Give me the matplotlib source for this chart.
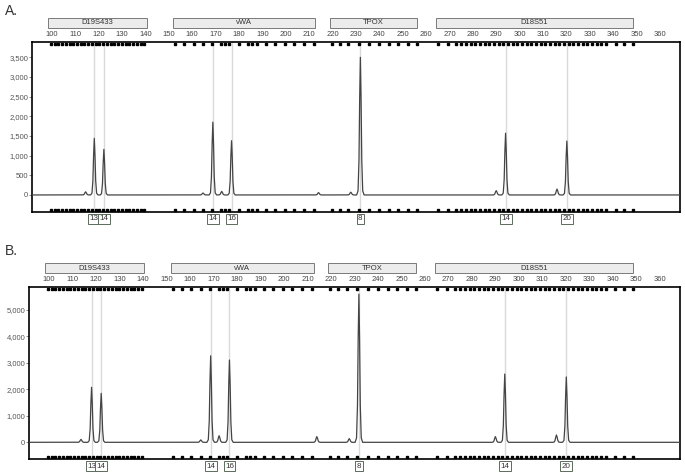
import matplotlib
matplotlib.use("Agg")
import matplotlib.pyplot as plt
import matplotlib.transforms as mtransforms
from matplotlib.patches import Rectangle

plt.rcParams['font.family'] = ['Liberation Sans', 'DejaVu Sans']

# size scale (bp) printed above each panel
size_ticks = [100, 110, 120, 130, 140, 150, 160, 170, 180, 190, 200, 210, 220,
              230, 240, 250, 260, 270, 280, 290, 300, 310, 320, 330, 340, 350, 360]

# locus header boxes
loci = ['D19S433', 'vWA', 'TPOX', 'D18S51']
locus_start = [98.2, 151.8, 218.8, 264.4]
locus_end = [140.5, 212.6, 256.1, 348.4]

# bin markers (squares on top and bottom frame)
d19_bins = [99.5, 101.1, 102.7, 104.3, 105.9, 107.5, 109.1, 110.7, 112.3, 113.9, 115.5,
            117.1, 118.7, 120.3, 121.9, 123.5, 125.1, 126.7, 128.3, 129.9, 131.5, 133.1,
            134.7, 136.3, 137.9, 139.5]
vwa_bins = [152.6, 156.6, 160.6, 164.6, 168.6, 172.3, 174.0, 175.8, 180.0, 184.0, 185.7,
            187.6, 191.5, 195.5, 199.5, 203.5, 207.8, 212.1]
tpox_bins = [219.6, 223.2, 226.8, 231.3, 235.7, 240.0, 244.1, 248.0, 252.3, 256.3]
d18_bins = [265.2, 269.5, 273, 275, 277, 279, 281, 283, 285, 287, 289, 291, 293, 295, 297,
            299, 301, 303, 305, 307, 309, 311, 313, 315, 317, 319, 321, 323, 325, 327, 329,
            331, 333, 335, 337, 341.1, 344.8, 348.6]

# allele calls (same in both runs)
allele_pos = [118.1, 122.2, 168.8, 176.8, 231.9, 294.0, 320.2]
allele_lbl = ['13', '14', '14', '16', '8', '14', '20']

# peaks (size, RFU)
peaks_a_pos = [114.4, 118.1, 122.2, 164.6, 168.8, 172.6, 176.8, 214.0, 227.8, 231.9,
               290.0, 294.0, 316.0, 320.2]
peaks_a_hgt = [80, 1440, 1160, 50, 1850, 90, 1380, 60, 70, 3500, 110, 1570, 150, 1370]
peaks_b_pos = [113.6, 118.1, 122.2, 164.6, 168.8, 172.4, 176.8, 214.0, 227.8, 231.9,
               290.0, 294.0, 316.0, 320.2]
peaks_b_hgt = [110, 2080, 1850, 90, 3270, 250, 3110, 215, 140, 5600, 215, 2580, 277, 2470]

yticks_a = [0, 500, 1000, 1500, 2000, 2500, 3000, 3500]
yticks_b = [0, 1000, 2000, 3000, 4000, 5000]

# peak outline used to draw each peak
SHAPE_DX = [-1.6, -1.0, -0.6, -0.3, 0.0, 0.3, 0.6, 1.0, 1.6]
SHAPE_FR = [0.0, 0.03, 0.25, 0.7, 1.0, 0.7, 0.25, 0.03, 0.0]

XMIN, XMAX = 91.6, 368.6


def build_trace(pos, hgt):
    xs, ys = [XMIN], [0]
    for p, h in zip(pos, hgt):
        for dx, f in zip(SHAPE_DX, SHAPE_FR):
            xs.append(p + dx)
            ys.append(h * f)
    xs.append(XMAX)
    ys.append(0)
    return xs, ys


def draw_panel(ax, pos, hgt, yticks, ylim, letter, letter_y):
    ax.set_xlim(XMIN, XMAX)
    ax.set_ylim(*ylim)
    for p in allele_pos:
        ax.axvline(p, color='#d9d9d9', lw=1.0, zorder=1)
    xs, ys = build_trace(pos, hgt)
    ax.plot(xs, ys, color='#444444', lw=0.9, zorder=3)

    ax.set_yticks(yticks)
    ax.set_yticklabels(['{:,}'.format(v) for v in yticks])
    ax.tick_params(axis='y', labelsize=5.5, labelcolor='#555555', length=2, width=0.6,
                   color='#777777', pad=1)
    ax.xaxis.set_ticks_position('top')
    ax.set_xticks(size_ticks)
    ax.set_xticklabels([str(v) for v in size_ticks])
    ax.tick_params(axis='x', labelsize=5.5, labelcolor='#444444', length=0, pad=3)
    for s in ax.spines.values():
        s.set_linewidth(1.2)
        s.set_color('black')

    trans = mtransforms.blended_transform_factory(ax.transData, ax.transAxes)
    bins = d19_bins + vwa_bins + tpox_bins + d18_bins
    ax.plot(bins, [0.988] * len(bins), 's', ms=1.8, color='black', transform=trans,
            clip_on=False, zorder=4)
    ax.plot(bins, [0.012] * len(bins), 's', ms=1.8, color='black', transform=trans,
            clip_on=False, zorder=4)

    for name, a, b in zip(loci, locus_start, locus_end):
        box = Rectangle((a, 1.082), b - a, 0.057, transform=trans, facecolor='#ececec',
                        edgecolor='#7a7a7a', lw=0.7, clip_on=False)
        ax.add_patch(box)
        ax.text((a + b) / 2, 1.110, name, transform=trans, ha='center', va='center',
                fontsize=5.5, color='#333333')

    for p, lbl in zip(allele_pos, allele_lbl):
        ax.text(p, -0.043, lbl, transform=trans, ha='center', va='center', fontsize=5.8,
                color='#333333',
                bbox=dict(boxstyle='square,pad=0.18', facecolor='white',
                          edgecolor='#5b6b5b', lw=0.7))

    ax.figure.text(0.007, letter_y, letter, fontsize=10, color='#333333',
                   ha='left', va='top')


fig = plt.figure(figsize=(6.85, 4.76), dpi=100)
ax_a = fig.add_axes([0.0472, 0.5553, 0.9455, 0.3571])
ax_b = fig.add_axes([0.0428, 0.0357, 0.9499, 0.3607])

draw_panel(ax_a, peaks_a_pos, peaks_a_hgt, yticks_a, (-425, 3897), 'A.', 0.992)
draw_panel(ax_b, peaks_b_pos, peaks_b_hgt, yticks_b, (-631, 5858), 'B.', 0.487)

fig.savefig('out.png', dpi=100)
